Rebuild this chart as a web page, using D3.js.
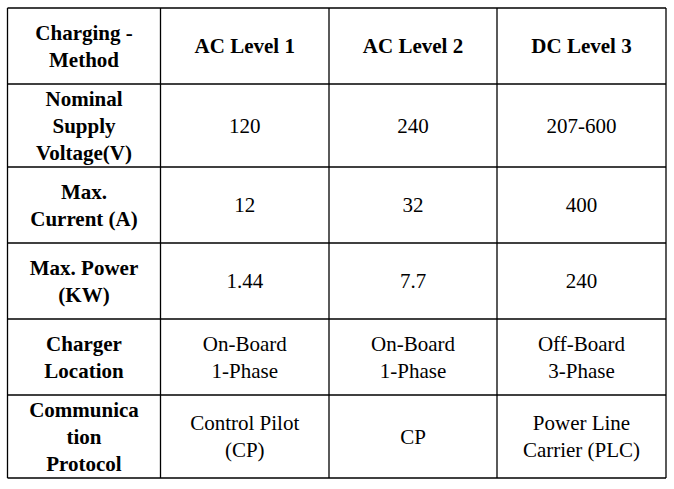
<!DOCTYPE html>
<html><head><meta charset="utf-8">
<script src="https://cdn.jsdelivr.net/npm/d3@7"></script>
<style>body{margin:0;background:#fff} text{font-family:"Liberation Serif","Times New Roman","DejaVu Serif",serif}</style></head>
<body><svg id="c" width="674" height="489"></svg>
<script>
const columns = ["Charging -\nMethod", "AC Level 1", "AC Level 2", "DC Level 3"];
const rowLabels = ["Nominal\nSupply\nVoltage(V)", "Max.\nCurrent (A)", "Max. Power\n(KW)", "Charger\nLocation", "Communica\ntion\nProtocol"];
const acLevel1 = ["120", "12", "1.44", "On-Board\n1-Phase", "Control Pilot\n(CP)"];
const acLevel2 = ["240", "32", "7.7", "On-Board\n1-Phase", "CP"];
const dcLevel3 = ["207-600", "400", "240", "Off-Board\n3-Phase", "Power Line\nCarrier (PLC)"];

const colEdges = [7.5, 160.5, 329, 497, 666];
const rowEdges = [8, 84, 167, 243, 319, 395, 478];
const svg = d3.select("#c");
const rows = [columns.map((c)=>({t:c,b:true}))].concat(rowLabels.map((r,i)=>[
  {t:r,b:true},{t:acLevel1[i]},{t:acLevel2[i]},{t:dcLevel3[i]}]));
rows.forEach((row,ri)=>row.forEach((cell,ci)=>{
  const x0=colEdges[ci],x1=colEdges[ci+1],y0=rowEdges[ri],y1=rowEdges[ri+1];
  const lines=cell.t.split("\n"); const lh=27;
  const cy=(y0+y1)/2;
  const t=svg.append("text").attr("text-anchor","middle")
    .attr("font-size",21)
    .attr("font-weight",cell.b?"bold":"normal").attr("fill","#000");
  lines.forEach((l,k)=>t.append("tspan").attr("x",(x0+x1)/2)
    .attr("y",cy+(k-(lines.length-1)/2)*lh+7).text(l));
}));
colEdges.forEach(x=>svg.append("line").attr("x1",x).attr("x2",x).attr("y1",rowEdges[0]).attr("y2",rowEdges[rowEdges.length-1]).attr("stroke","#000").attr("stroke-width",1.3));
rowEdges.forEach(y=>svg.append("line").attr("y1",y).attr("y2",y).attr("x1",colEdges[0]).attr("x2",colEdges[4]).attr("stroke","#000").attr("stroke-width",1.3));
</script></body></html>
